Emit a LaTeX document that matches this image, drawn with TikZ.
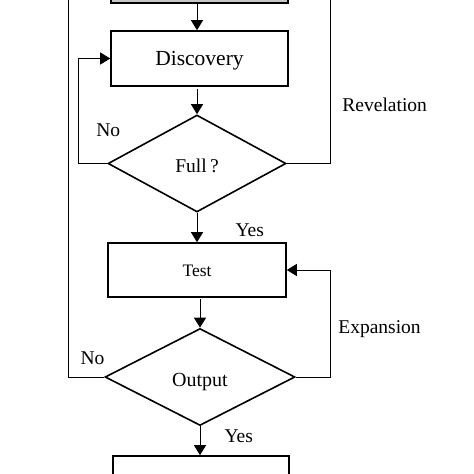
\documentclass[tikz,border=0pt]{standalone}
\usepackage{fontspec}
\setmainfont{Liberation Serif}
\usetikzlibrary{arrows.meta,shapes.geometric}
\begin{document}
\begin{tikzpicture}[x=1pt,y=-1pt,
  box/.style={draw,line width=1.6pt,minimum width=177pt,minimum height=55pt,inner sep=0pt},
  dia/.style={draw,diamond,line width=1.6pt,inner sep=0pt},
  conn/.style={line width=1pt},
  arr/.style={conn,-{Triangle[length=10pt,width=12pt]}},
  lbl/.style={font=\fontsize{19.5}{21}\selectfont,inner sep=0pt,anchor=base}]
\useasboundingbox (0,0) rectangle (474,474);
\node[box,fill=black!22,minimum height=56pt] (top) at (199.5,-25) {};
\node[box,font=\fontsize{21.5}{23}\selectfont,text height=14.4pt,text depth=0pt] (disc) at (199.5,58.5) {Discovery};
\node[dia,minimum width=178pt,minimum height=97pt,font=\fontsize{19.5}{21}\selectfont,text height=17.6pt,text depth=0pt] (full) at (197,163.5) {Full\,?};
\node[box,minimum width=178pt,minimum height=54pt,font=\fontsize{17.5}{19}\selectfont,text height=12pt,text depth=0pt] (test) at (197,270) {Test};
\node[dia,minimum width=190pt,minimum height=97pt,font=\fontsize{20}{22}\selectfont,text height=19pt,text depth=0pt] (out) at (200,377) {Output};
\node[box,minimum width=176pt,minimum height=54pt] (bot) at (201,483) {};
\coordinate (ax) at (197,0);
\coordinate (nL) at (78,0);
\coordinate (rR) at (330,-5);
\coordinate (oL) at (68,-5);
% main flow
\draw[arr] (top.south -| ax) -- (disc.north -| ax);
\draw[arr] (disc.south -| ax) ++(0,2.5) -- (full.north);
\draw[arr] (full.south) -- (test.north -| full.south);
\draw[arr] (test.south -| out.north) ++(0,1.5) -- (out.north);
\draw[arr] (out.south) -- (out.south |- bot.north);
% loops
\draw[arr] (full.west) -- (full.west -| nL) -- (disc.west -| nL) -- (disc.west);
\draw[conn] (full.east) -- (full.east -| rR) -- (rR);
\draw[conn] (oL) -- (oL |- out.west) -- (out.west);
\draw[arr] (out.east) -- (out.east -| rR) -- (test.east -| rR) -- (test.east);
% labels
\node[lbl] (no1) at (108.3,136.7) {No};
\node[lbl] (rev) at (384.7,111.7) {Revelation};
\node[lbl] (yes1) at (249.7,236.7) {Yes};
\node[lbl] (no2) at (92.5,364.3) {No};
\node[lbl] (exp) at (379.5,333.3) {Expansion};
\node[lbl] (yes2) at (238.7,442.7) {Yes};
\end{tikzpicture}
\end{document}
